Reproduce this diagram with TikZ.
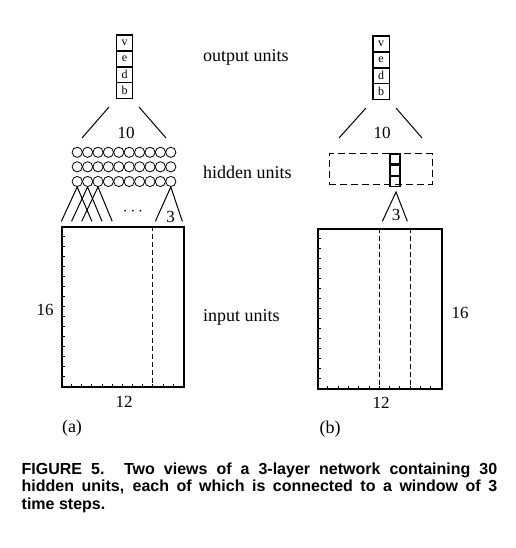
\documentclass[tikz,border=0pt]{standalone}
\usepackage{fontspec}
\setmainfont{Liberation Serif}
\newfontfamily\capfont{Liberation Sans}
\usepackage{tikz}
\usetikzlibrary{positioning, calc}

\begin{document}
\begin{tikzpicture}[x=1pt, y=-1pt,
    cell/.style={draw, line width=0.7pt, minimum width=16pt, minimum height=15.25pt, inner sep=0pt, font=\fontsize{12}{12}\selectfont},
    unit/.style={draw, circle, line width=0.8pt, minimum size=10.2pt, inner sep=0pt},
    conn/.style={line width=1pt},
    inbox/.style={draw, line width=1.3pt, minimum height=160pt, inner sep=0pt},
    tick/.style={line width=1pt},
    lbl/.style={font=\fontsize{17}{20}\selectfont, inner sep=0pt},
    lyrlbl/.style={font=\fontsize{18}{20}\selectfont, inner sep=0pt}]
  \useasboundingbox (0,0) rectangle (515,548);

  % (a) output units
  \node[cell] (oa1) at (124.5,42.6) {v};
  \node[cell, below=0pt of oa1] (oa2) {e};
  \node[cell, below=0pt of oa2] (oa3) {d};
  \node[cell, below=0pt of oa3] (oa4) {b};
  \draw[line width=1.1pt] (oa1.north west) rectangle (oa4.south east);
  \coordinate (aL1) at (109,107);
  \coordinate (aL2) at (82,138);
  \coordinate (aR1) at (139,107);
  \coordinate (aR2) at (166,138);
  \draw[conn] (aL1) -- (aL2);
  \draw[conn] (aR1) -- (aR2);
  \node[lbl] (tenA) at (126,133) {10};

  % (a) hidden units
  \foreach \r/\y in {1/152.3, 2/166.8, 3/181.5}
    \foreach \c in {0,...,9}
      \node[unit] (ha-\r-\c) at (77.2+10.4*\c, \y) {};

  % (a) input units
  \node[inbox, minimum width=122pt] (inA) at (123,307) {};
  \foreach \k in {1,...,15}
    \draw[tick] ($(inA.north west)+(0,10*\k)$) -- ++(4,0);
  \foreach \k in {1,...,11}
    \draw[tick] ($(inA.south west)+(10.17*\k,0)$) -- ++(0,-4);
  \draw[conn, dash pattern=on 5pt off 3pt] ($(inA.north west)+(91.5,0)$) -- ($(inA.south west)+(91.5,0)$);
  \foreach \i in {0,1,2}
    \draw[conn] ($(inA.north west)+(10.17*\i,-5)$) -- (ha-3-\i.south) -- ($(inA.north west)+(10.17*\i+30.5,-5)$);
  \draw[conn] ($(inA.north west)+(94,-5)$) -- (ha-3-9.south) -- ($(inA.north west)+(121,-5)$);
  \node[lbl] (winA) at (170.5,216.5) {3};
  \node[lbl] (dotsA) at (133,212) {$\cdots$};
  \node[lbl] (rowsA) at (45,310) {16};
  \node[lbl] (colsA) at (124,402) {12};
  \node[lyrlbl] (capA) at (72,428) {(a)};

  % (b) output units
  \node[cell] (ob1) at (381,43.6) {v};
  \node[cell, below=0pt of ob1] (ob2) {e};
  \node[cell, below=0pt of ob2] (ob3) {d};
  \node[cell, below=0pt of ob3] (ob4) {b};
  \draw[line width=1.1pt] (ob1.north west) rectangle (ob4.south east);
  \coordinate (bL1) at (366,108);
  \coordinate (bL2) at (339,138);
  \coordinate (bR1) at (396,108);
  \coordinate (bR2) at (422,138);
  \draw[conn] (bL1) -- (bL2);
  \draw[conn] (bR1) -- (bR2);
  \node[lbl] (tenB) at (382,133) {10};

  % (b) hidden units
  \node[draw, dash pattern=on 7pt off 4pt, line width=1pt, minimum width=103pt, minimum height=30pt, inner sep=0pt] (hb) at (380.5,169) {};
  \node[draw, line width=1.2pt, minimum size=10pt, inner sep=0pt] (hs1) at (395,159) {};
  \node[draw, line width=1.2pt, minimum size=10pt, inner sep=0pt, below=0pt of hs1] (hs2) {};
  \node[draw, line width=1.2pt, minimum size=10pt, inner sep=0pt, below=0pt of hs2] (hs3) {};

  % (b) input units
  \node[inbox, minimum width=124pt] (inB) at (380,309) {};
  \foreach \k in {1,...,15}
    \draw[tick] ($(inB.north west)+(0,10*\k)$) -- ++(4,0);
  \foreach \k in {1,...,11}
    \draw[tick] ($(inB.south west)+(10.33*\k,0)$) -- ++(0,-4);
  \draw[conn, dash pattern=on 5pt off 3pt] ($(inB.north west)+(62,0)$) -- ($(inB.south west)+(62,0)$);
  \draw[conn, dash pattern=on 5pt off 3pt] ($(inB.north west)+(93,0)$) -- ($(inB.south west)+(93,0)$);
  \coordinate (bApex) at ($(hs3.south)+(1,5)$);
  \draw[conn] ($(inB.north west)+(65,-7)$) -- (bApex) -- ($(inB.north west)+(90,-7)$);
  \node[lbl] (winB) at (396,215) {3};
  \node[lbl] (rowsB) at (460,313) {16};
  \node[lbl] (colsB) at (381,403) {12};
  \node[lyrlbl] (capB) at (330,429) {(b)};

  % layer names
  \node[lyrlbl, anchor=west] (nOut) at (203,57) {output units};
  \node[lyrlbl, anchor=west] (nHid) at (203,172) {hidden units};
  \node[lyrlbl, anchor=west] (nIn) at (203,317) {input units};

  % caption
  \node[anchor=base west, inner sep=0pt] (cap) at (21.5,474)
    {\parbox[t]{475.5pt}{\capfont\bfseries\fontsize{16}{17.5}\selectfont
     FIGURE 5. Two views of a 3-layer network containing 30\linebreak
     hidden units, each of which is connected to a window of 3\linebreak
     time steps.}};
\end{tikzpicture}
\end{document}
